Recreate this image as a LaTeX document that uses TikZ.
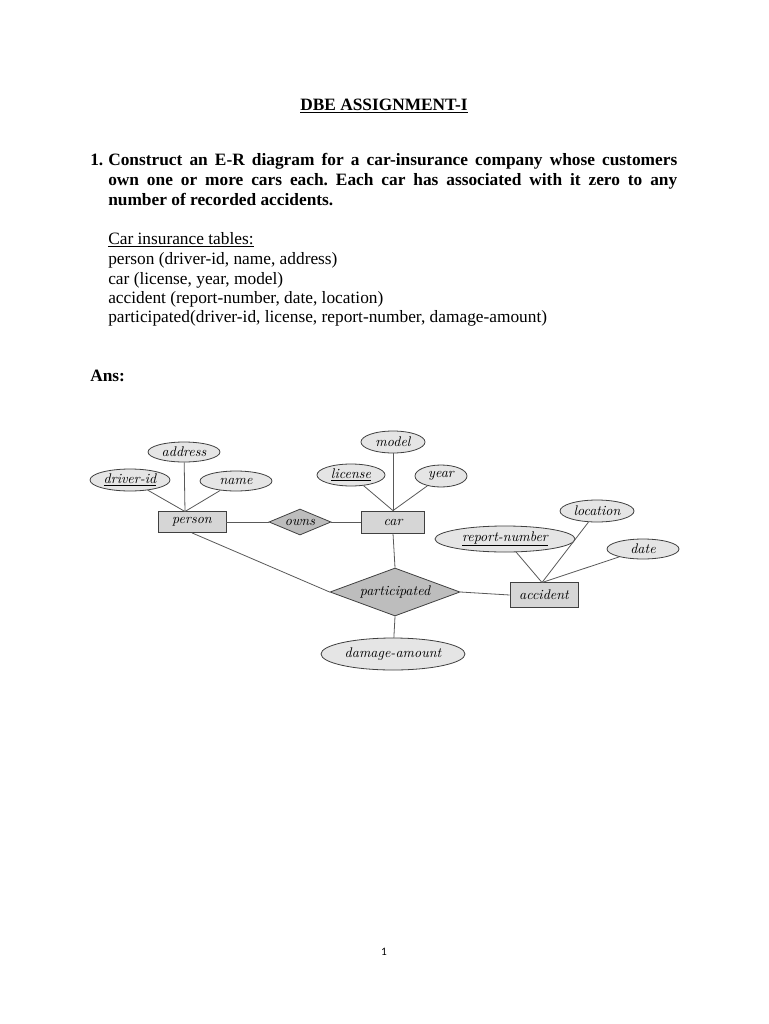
\documentclass[tikz,border=0pt]{standalone}
\usepackage{fontspec}
\newfontfamily\docfont{Liberation Serif}
\newfontfamily\pagefont{Carlito}
\usetikzlibrary{shapes.geometric,positioning}
\frenchspacing

\tikzset{
  doctext/.style={inner sep=0pt, font=\docfont\fontsize{13}{15}\selectfont},
  docbold/.style={inner sep=0pt, font=\docfont\bfseries\fontsize{13}{15}\selectfont},
  entity/.style={rectangle, draw=black!75, fill=black!16, line width=0.6pt, inner sep=0pt, font=\itshape\fontsize{10.5}{12}\selectfont},
  relation/.style={diamond, aspect=2.6, draw=black!75, fill=black!26, line width=0.6pt, inner sep=0pt, font=\itshape\fontsize{10.5}{12}\selectfont},
  attrib/.style={ellipse, draw=black!75, fill=black!10, line width=0.6pt, inner sep=0pt, font=\itshape\fontsize{10.5}{12}\selectfont},
  link/.style={draw=black!65, line width=0.6pt}
}

\begin{document}
\begin{tikzpicture}[x=0.75pt,y=-0.75pt]
    \fill[white] (0,0) rectangle (768,1024);
    \useasboundingbox (0,0) rectangle (768,1024);

    % question text
    \node[docbold, anchor=base] (title) at (384,110) {\underline{DBE ASSIGNMENT-I}};
    \node[docbold, anchor=base west] (qnum) at (90,165) {1.};
    \node[docbold, anchor=base west] (qline1) at (108,165) {\makebox[426.75pt][s]{Construct an E-R diagram for a car-insurance company whose customers}};
    \node[docbold, anchor=base west] (qline2) at (108,185) {\makebox[426.75pt][s]{own one or more cars each. Each car has associated with it zero to any}};
    \node[docbold, anchor=base west] (qline3) at (108,205) {number of recorded accidents.};

    \node[doctext, anchor=base west] (tables) at (108,244) {\underline{Car insurance tables:}};
    \foreach \n/\y/\t in {tperson/264/{person (driver-id, name, address)},
                          tcar/284/{car (license, year, model)},
                          taccident/303/{accident (report-number, date, location)},
                          tpart/322/{participated(driver-id, license, report-number, damage-amount)}}{
      \node[doctext, anchor=base west] (\n) at (108,\y) {\t};
    }
    \node[docbold, anchor=base west] (ans) at (90,381) {Ans:};

    % entities and relationships
    \node[entity, minimum width=51pt, minimum height=15.75pt] (person) at (192,522) {person};
    \node[entity, minimum width=47.25pt, minimum height=16.5pt] (car) at (393,522) {car};
    \node[entity, minimum width=51pt, minimum height=18.75pt] (accident) at (544,595) {accident};
    \node[relation, minimum width=46.5pt, minimum height=19.5pt] (owns) at (300,522) {owns};
    \node[relation, minimum width=97.5pt, minimum height=36pt] (participated) at (395,592) {participated};

    % attributes
    \foreach \n/\px/\py/\aw/\ah/\t in {address/184/452/54/15/address,
                                       driverid/130/480/60/16.5/\underline{driver-id},
                                       name/236/481/54/15/name,
                                       model/393/442/48/16.5/model,
                                       license/351/475/51/16.5/\underline{license},
                                       year/441/476/39/16.5/year,
                                       reportnum/505/539/105/19.5/\underline{report-number},
                                       location/597/511/55.5/16.5/location,
                                       date/643/549/54/15/date,
                                       damage/393/654/108/24/damage-amount}{
      \node[attrib, minimum width=\aw pt, minimum height=\ah pt] (\n) at (\px,\py) {\t};
    }

    % connectors
    \coordinate (pjoin) at (185,511.5);
    \coordinate (ajoin) at (542,582.5);
    \draw[link] (address) -- (pjoin);
    \draw[link] (driverid) -- (pjoin);
    \draw[link] (name) -- (pjoin);
    \draw[link] (model) -- (car.north);
    \draw[link] (license) -- (car.north);
    \draw[link] (year) -- (car.north);
    \draw[link] (reportnum) -- (ajoin);
    \draw[link] (location) -- (ajoin);
    \draw[link] (date) -- (ajoin);
    \draw[link] (person.east) -- (owns.west);
    \draw[link] (owns.east) -- (car.west);
    \draw[link] (person.south) -- (participated.west);
    \draw[link] (car.south) -- (participated.north);
    \draw[link] (participated.east) -- (accident.west);
    \draw[link] (participated.south) -- (damage);

    \node[inner sep=0pt, font=\pagefont\fontsize{8.5}{10}\selectfont] (pageno) at (384,952) {1};
\end{tikzpicture}
\end{document}
